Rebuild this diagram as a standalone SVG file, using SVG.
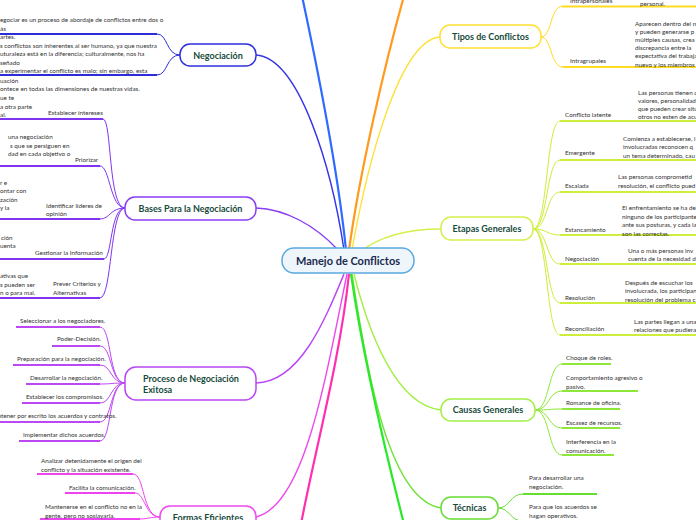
<svg xmlns="http://www.w3.org/2000/svg" width="696" height="520" viewBox="0 0 696 520">
<style>
.t{font-family:Lato,"Open Sans","Liberation Sans",sans-serif;font-size:6.3px;fill:#333}
.n{font-family:Lato,"Open Sans","Liberation Sans",sans-serif;font-size:9px;font-weight:bold;fill:#174a3c;text-anchor:middle}
.ns{font-family:Lato,"Open Sans","Liberation Sans",sans-serif;font-size:9px;font-weight:bold;fill:#174a3c}
.m{font-family:Lato,"Open Sans","Liberation Sans",sans-serif;font-size:11px;font-weight:bold;fill:#1b2a4e;text-anchor:middle}
.b{fill:#fff;stroke-width:1.5}
path,line{fill:none}
.u{stroke-width:2.2}
.k{stroke-width:1}
</style>
<rect width="696" height="520" fill="#fff"/>
<g id="connectors">
<path d="M346,250 C 338,172 320,80 302,-4" stroke="#2f6bff" stroke-width="2.2"/>
<path d="M256,55 C 300,58 332,170 344,250" stroke="#3535e6" stroke-width="1.4"/>
<path d="M349,250 C 360,170 386,60 404,-4" stroke="#ff9a1e" stroke-width="2.2"/>
<path d="M440,37 C 400,40 368,160 352,250" stroke="#ffe033" stroke-width="1.4"/>
<path d="M441,229 C 410,229 380,236 360,252" stroke="#d4f04c" stroke-width="1.4"/>
<path d="M256,208 C 285,209 315,225 338,250" stroke="#8a3ef2" stroke-width="1.4"/>
<path d="M344,274 C 325,320 300,382 256,383" stroke="#b845f5" stroke-width="1.4"/>
<path d="M347,274 C 325,380 305,505 256,517" stroke="#ee48ee" stroke-width="1.4"/>
<path d="M349,274 C 340,360 315,450 301,524" stroke="#ff2fb0" stroke-width="2.2"/>
<path d="M354,274 C 368,330 395,405 441,410" stroke="#a3ef45" stroke-width="1.4"/>
<path d="M352,274 C 368,380 390,500 441,508" stroke="#72e23a" stroke-width="1.4"/>
<path d="M351,274 C 362,350 385,450 404,524" stroke="#2ae82a" stroke-width="2.2"/>
<g stroke="#2c2cd8">
<line class="u" x1="-2" y1="34" x2="157" y2="34"/>
<line class="u" x1="-2" y1="75" x2="157" y2="75"/>
<path class="k" d="M157,34 C 168,34 166,55 180,55"/>
<path class="k" d="M157,75 C 168,75 166,55 180,55"/>
</g>
<g stroke="#7f35f0">
<line class="u" x1="-2" y1="119" x2="103" y2="119"/>
<line class="u" x1="-2" y1="166" x2="100" y2="166"/>
<line class="u" x1="-2" y1="219" x2="100" y2="219"/>
<line class="u" x1="-2" y1="259" x2="104" y2="259"/>
<line class="u" x1="-2" y1="298" x2="100" y2="298"/>
<path class="k" d="M103,119 C 112,119 108,208 125,208"/>
<path class="k" d="M100,166 C 110,166 110,208 125,208"/>
<path class="k" d="M100,219 C 110,219 110,208 125,208"/>
<path class="k" d="M104,259 C 112,259 110,208 125,208"/>
<path class="k" d="M100,298 C 112,298 110,208 125,208"/>
</g>
<g stroke="#bb48f3">
<line class="u" x1="16" y1="327" x2="100" y2="327"/>
<line class="u" x1="52" y1="346" x2="100" y2="346"/>
<line class="u" x1="13" y1="365" x2="100" y2="365"/>
<line class="u" x1="26" y1="384" x2="100" y2="384"/>
<line class="u" x1="22" y1="403" x2="100" y2="403"/>
<line class="u" x1="-2" y1="422" x2="100" y2="422"/>
<line class="u" x1="19" y1="441" x2="100" y2="441"/>
<path class="k" d="M100,327 C 112,327 108,383 125,383"/>
<path class="k" d="M100,346 C 112,346 110,383 125,383"/>
<path class="k" d="M100,365 C 112,365 110,383 125,383"/>
<path class="k" d="M100,384 C 112,384 112,383 125,383"/>
<path class="k" d="M100,403 C 112,403 110,383 125,383"/>
<path class="k" d="M100,422 C 112,422 110,383 125,383"/>
<path class="k" d="M100,441 C 112,441 108,383 125,383"/>
</g>
<g stroke="#ee44ee">
<line class="u" x1="37" y1="474" x2="133" y2="474"/>
<line class="u" x1="65" y1="493" x2="135" y2="493"/>
<line class="u" x1="40" y1="519" x2="140" y2="519"/>
<path class="k" d="M133,474 C 145,474 142,517 160,517"/>
<path class="k" d="M135,493 C 145,493 145,517 160,517"/>
<path class="k" d="M140,519 C 148,519 150,517 160,517"/>
</g>
<g stroke="#ffdc22">
<line class="u" x1="562" y1="6.5" x2="698" y2="6.5"/>
<line class="u" x1="563" y1="67" x2="698" y2="67"/>
<path class="k" d="M541,37 C 552,37 550,6.5 562,6.5"/>
<path class="k" d="M541,37 C 552,37 550,67 563,67"/>
</g>
<g stroke="#cdee3a">
<line class="u" x1="560" y1="121" x2="698" y2="121"/>
<line class="u" x1="560" y1="160" x2="698" y2="160"/>
<line class="u" x1="560" y1="192" x2="698" y2="192"/>
<line class="u" x1="560" y1="235" x2="698" y2="235"/>
<line class="u" x1="560" y1="264" x2="698" y2="264"/>
<line class="u" x1="560" y1="303" x2="698" y2="303"/>
<line class="u" x1="560" y1="335" x2="698" y2="335"/>
<path class="k" d="M533,229 C 548,229 546,121 560,121"/>
<path class="k" d="M533,229 C 548,229 546,160 560,160"/>
<path class="k" d="M533,229 C 548,229 546,192 560,192"/>
<path class="k" d="M533,229 C 548,229 546,235 560,235"/>
<path class="k" d="M533,229 C 548,229 546,264 560,264"/>
<path class="k" d="M533,229 C 548,229 546,303 560,303"/>
<path class="k" d="M533,229 C 548,229 546,335 560,335"/>
</g>
<g stroke="#8de83a">
<line class="u" x1="562" y1="364" x2="611" y2="364"/>
<line class="u" x1="562" y1="391" x2="638" y2="391"/>
<line class="u" x1="562" y1="409" x2="620" y2="409"/>
<line class="u" x1="562" y1="428" x2="620" y2="428"/>
<line class="u" x1="562" y1="455" x2="614" y2="455"/>
<path class="k" d="M535,410 C 550,410 548,364 562,364"/>
<path class="k" d="M535,410 C 550,410 548,391 562,391"/>
<path class="k" d="M535,410 C 550,410 548,409 562,409"/>
<path class="k" d="M535,410 C 550,410 548,428 562,428"/>
<path class="k" d="M535,410 C 550,410 548,455 562,455"/>
</g>
<g stroke="#66dd33">
<line class="u" x1="523" y1="494" x2="597" y2="494"/>
<line class="u" x1="523" y1="521" x2="600" y2="521"/>
<path class="k" d="M498,508 C 510,508 510,494 523,494"/>
<path class="k" d="M498,508 C 510,508 510,521 523,521"/>
</g>
</g>

<g id="center">
<rect x="282" y="248" width="132" height="25" rx="12" fill="#eef6fc" stroke="#5aa9e0" stroke-width="1.5"/>
<text class="m" x="348" y="265">Manejo de Conflictos</text>
</g>

<g id="negociacion">
<rect class="b" x="180" y="44" width="76" height="22" rx="10" stroke="#2f2fe0"/>
<text class="n" x="218" y="58.5">Negociación</text>
<text class="t" x="0" y="22.3">egociar es un proceso de abordaje de conflictos entre dos o</text>
<text class="t" x="0" y="31.3">ás</text>
<text class="t" x="0" y="39.3">artes.</text>
<text class="t" x="0" y="48.3">s conflictos son inherentes al ser humano, ya que nuestra</text>
<text class="t" x="0" y="56.3">uturaleza está en la diferencia; culturalmente, nos ha</text>
<text class="t" x="0" y="65.3">señado</text>
<text class="t" x="0" y="73.3">a experimentar el conflicto es malo; sin embargo, esta</text>
<text class="t" x="0" y="83.3">uación</text>
<text class="t" x="0" y="91.3">ontece en todas las dimensiones de nuestras vidas.</text>
</g>

<g id="bases">
<rect class="b" x="125" y="197" width="131" height="23" rx="10" stroke="#8a3ef2"/>
<text class="n" x="190.5" y="211.5">Bases Para la Negociación</text>
<text class="t" x="0" y="100.3">ue te</text>
<text class="t" x="0" y="109.3">a otra parte</text>
<text class="t" x="0" y="117.3">al.</text>
<text class="t" x="48" y="115.3">Establecer intereses</text>
<text class="t" x="8" y="139.3">una negociación</text>
<text class="t" x="10" y="148.3">s que se persiguen en</text>
<text class="t" x="8" y="156.3">dad en cada objetivo o</text>
<text class="t" x="75" y="162.3">Priorizar</text>
<text class="t" x="0" y="185.3">r e</text>
<text class="t" x="0" y="193.3">ontar con</text>
<text class="t" x="0" y="202.3">zación</text>
<text class="t" x="0" y="210.3">y la</text>
<text class="t" x="46" y="208.3">Identificar líderes de</text>
<text class="t" x="46" y="216.3">opinión</text>
<text class="t" x="1" y="240.3">ción</text>
<text class="t" x="0" y="248.3">uenta</text>
<text class="t" x="35" y="255.3">Gestionar la Información</text>
<text class="t" x="0" y="278.3">ativas que</text>
<text class="t" x="0" y="287.3">s pueden ser</text>
<text class="t" x="0" y="295.3">n o para mal.</text>
<text class="t" x="53" y="286.3">Prever Criterios y</text>
<text class="t" x="53" y="295.3">Alternativas</text>
</g>

<g id="proceso">
<rect class="b" x="125" y="367" width="131" height="33" rx="11" stroke="#b845f5"/>
<text class="ns" x="143" y="382">Proceso de Negociación</text>
<text class="ns" x="143" y="393">Exitosa</text>
<text class="t" x="20" y="323.3">Seleccionar a los negociadores.</text>
<text class="t" x="57" y="341.3">Poder-Decisión.</text>
<text class="t" x="17" y="361.3">Preparación para la negociación.</text>
<text class="t" x="30" y="380.3">Desarrollar la negociación.</text>
<text class="t" x="26" y="399.3">Establecer los compromisos.</text>
<text class="t" x="-7.5" y="418.3">Obtener por escrito los acuerdos y contratos.</text>
<text class="t" x="23" y="437.3">Implementar dichos acuerdos.</text>
</g>

<g id="formas">
<rect class="b" x="160" y="506" width="96" height="24" rx="10" stroke="#ee48ee"/>
<text class="n" x="208" y="520.5">Formas Eficientes</text>
<text class="t" x="41" y="463.3">Analizar detenidamente el origen del</text>
<text class="t" x="41" y="472.3">conflicto y la situación existente.</text>
<text class="t" x="69" y="490.3">Facilita la comunicación.</text>
<text class="t" x="45" y="509.3">Mantenerse en el conflicto no en la</text>
<text class="t" x="45" y="518.3">gente, pero no soslayarla.</text>
</g>

<g id="tipos">
<rect class="b" x="440" y="25" width="101" height="23" rx="10" stroke="#ffe033"/>
<text class="n" x="490.5" y="39.5">Tipos de Conflictos</text>
<text class="t" x="570" y="2.5">Intrapersonales</text>
<text class="t" x="640" y="6.3">personal.</text>
<text class="t" x="570" y="63.3">Intragrupales</text>
<text class="t" x="635" y="26.3">Aparecen dentro del m</text>
<text class="t" x="635" y="34.3">y pueden generarse p</text>
<text class="t" x="635" y="42.3">múltiples causas, crea</text>
<text class="t" x="635" y="50.3">discrepancia entre la</text>
<text class="t" x="635" y="58.3">expectativa del trabaja</text>
<text class="t" x="635" y="67.3">nuevo y los miembros</text>
</g>

<g id="etapas">
<rect class="b" x="441" y="217" width="92" height="23" rx="10" stroke="#d4f04c"/>
<text class="n" x="487" y="231.5">Etapas Generales</text>
<text class="t" x="565" y="117.3">Conflicto latente</text>
<text class="t" x="638" y="94.8">Las personas tienen d</text>
<text class="t" x="638" y="102.8">valores, personalidad</text>
<text class="t" x="638" y="110.8">que pueden crear situ</text>
<text class="t" x="638" y="118.8">otros no esten de acu</text>
<text class="t" x="565" y="155.3">Emergente</text>
<text class="t" x="623" y="141.3">Comienza a establecerse, l</text>
<text class="t" x="623" y="149.3">involucradas reconocen q</text>
<text class="t" x="623" y="158.3">un tema determinado, cau</text>
<text class="t" x="565" y="188.3">Escalada</text>
<text class="t" x="618" y="179.3">Las personas comprometid</text>
<text class="t" x="618" y="188.3">resolución, el conflicto pued</text>
<text class="t" x="565" y="232.3">Estancamiento</text>
<text class="t" x="622" y="209.8">El enfrentamiento se ha de</text>
<text class="t" x="622" y="218.5">ninguno de los participante</text>
<text class="t" x="622" y="227.2">ante sus posturas, y cada la</text>
<text class="t" x="622" y="235.9">son las correctas.</text>
<text class="t" x="565" y="261.3">Negociación</text>
<text class="t" x="628" y="253.3">Una o más personas inv</text>
<text class="t" x="628" y="261.3">cuenta de la necesidad d</text>
<text class="t" x="565" y="300.3">Resolución</text>
<text class="t" x="625" y="285.3">Después de escuchar los</text>
<text class="t" x="625" y="293.3">involucrada, los participan</text>
<text class="t" x="625" y="302.3">resolución del problema c</text>
<text class="t" x="565" y="331.3">Reconciliación</text>
<text class="t" x="634" y="324.3">Las partes llegan a una</text>
<text class="t" x="634" y="332.3">relaciones que pudiera</text>
</g>

<g id="causas">
<rect class="b" x="441" y="399" width="94" height="22" rx="10" stroke="#a3ef45"/>
<text class="n" x="488" y="413">Causas Generales</text>
<text class="t" x="566" y="360.3">Choque de roles.</text>
<text class="t" x="566" y="380.3">Comportamiento agresivo o</text>
<text class="t" x="566" y="389.3">pasivo.</text>
<text class="t" x="566" y="405.3">Romance de oficina.</text>
<text class="t" x="566" y="425.3">Escasez de recursos.</text>
<text class="t" x="566" y="444.3">Interferencia en la</text>
<text class="t" x="566" y="453.3">comunicación.</text>
</g>

<g id="tecnicas">
<rect class="b" x="441" y="497" width="57" height="22" rx="10" stroke="#66dd33"/>
<text class="n" x="469.5" y="511">Técnicas</text>
<text class="t" x="529" y="480.3">Para desarrollar una</text>
<text class="t" x="529" y="489.3">negociación.</text>
<text class="t" x="529" y="509.3">Para que los acuerdos se</text>
<text class="t" x="529" y="518.3">hagan operativos.</text>
</g>
</svg>
